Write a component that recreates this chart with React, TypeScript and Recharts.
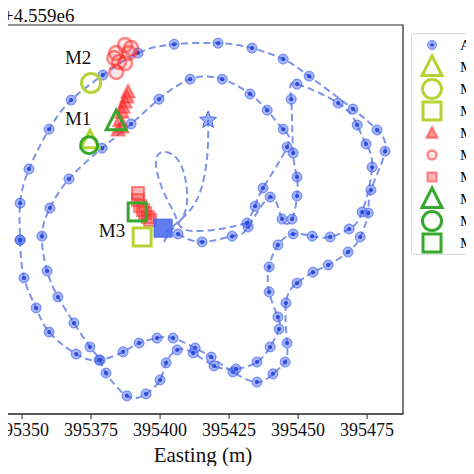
import React from 'react';
import { ComposedChart, Line, Scatter, XAxis, YAxis, ReferenceArea } from 'recharts';

// Easting (m) and northing (m above 4.559e6)
const lapOuter = [
  { x: 395349.3, y: 87.3 }, { x: 395350.7, y: 73.5 }, { x: 395355.1, y: 62.6 }, { x: 395359.8, y: 53.8 },
  { x: 395369.6, y: 45.8 }, { x: 395377.9, y: 43.6 }, { x: 395386.6, y: 46.6 }, { x: 395392.4, y: 49.8 },
  { x: 395398.9, y: 51.6 }, { x: 395404.7, y: 51.6 }, { x: 395412.7, y: 48.0 }, { x: 395418.5, y: 44.7 },
  { x: 395426.4, y: 39.3 }, { x: 395435.1, y: 35.6 }, { x: 395440.9, y: 38.6 }, { x: 395445.3, y: 42.9 },
  { x: 395446.0, y: 49.8 }, { x: 395445.6, y: 64.4 }, { x: 395449.6, y: 71.6 }, { x: 395455.4, y: 75.6 },
  { x: 395460.9, y: 78.2 }, { x: 395468.1, y: 82.9 }, { x: 395472.5, y: 88.4 }, { x: 395475.4, y: 97.1 },
  { x: 395476.4, y: 105.5 }, { x: 395481.5, y: 119.6 }, { x: 395478.6, y: 127.3 }, { x: 395469.9, y: 134.9 },
  { x: 395454.0, y: 146.9 }, { x: 395444.6, y: 153.1 }, { x: 395433.3, y: 157.1 }, { x: 395421.0, y: 158.9 },
  { x: 395405.1, y: 158.5 }, { x: 395392.0, y: 155.3 }, { x: 395379.3, y: 147.3 }, { x: 395367.8, y: 138.2 },
  { x: 395359.8, y: 127.6 }, { x: 395352.5, y: 113.1 }, { x: 395349.3, y: 100.7 }, { x: 395349.3, y: 87.3 },
];

const lapInner = [
  { x: 395406.5, y: 89.5 }, { x: 395415.2, y: 86.6 }, { x: 395426.1, y: 88.7 }, { x: 395431.9, y: 92.0 },
  { x: 395439.9, y: 102.9 }, { x: 395444.2, y: 94.9 }, { x: 395447.8, y: 94.9 }, { x: 395449.6, y: 103.3 },
  { x: 395449.6, y: 110.2 }, { x: 395448.2, y: 118.9 }, { x: 395447.5, y: 138.5 }, { x: 395449.6, y: 144.0 },
  { x: 395464.5, y: 137.1 }, { x: 395471.4, y: 129.1 }, { x: 395474.6, y: 122.2 }, { x: 395476.8, y: 113.8 },
  { x: 395473.2, y: 97.5 }, { x: 395468.5, y: 91.3 }, { x: 395461.6, y: 88.4 }, { x: 395455.1, y: 88.7 },
  { x: 395448.2, y: 89.5 }, { x: 395442.7, y: 85.5 }, { x: 395439.5, y: 77.5 }, { x: 395439.5, y: 68.4 },
  { x: 395442.7, y: 59.3 }, { x: 395443.1, y: 54.9 }, { x: 395439.9, y: 48.4 }, { x: 395435.1, y: 42.9 },
  { x: 395427.5, y: 40.4 }, { x: 395419.6, y: 41.5 }, { x: 395412.0, y: 46.2 }, { x: 395406.2, y: 47.3 },
  { x: 395402.2, y: 42.6 }, { x: 395400.0, y: 36.4 }, { x: 395394.9, y: 31.3 }, { x: 395388.0, y: 30.6 },
  { x: 395380.4, y: 38.9 }, { x: 395378.3, y: 43.6 }, { x: 395374.6, y: 48.4 }, { x: 395368.8, y: 57.1 },
  { x: 395363.0, y: 66.6 }, { x: 395359.1, y: 76.0 }, { x: 395357.2, y: 88.7 }, { x: 395360.1, y: 98.9 },
  { x: 395367.0, y: 109.5 }, { x: 395379.0, y: 120.7 }, { x: 395389.5, y: 129.5 }, { x: 395399.6, y: 138.5 },
  { x: 395410.9, y: 145.8 }, { x: 395422.5, y: 145.8 }, { x: 395432.6, y: 140.4 }, { x: 395438.8, y: 134.5 },
  { x: 395444.6, y: 127.6 }, { x: 395446.0, y: 121.1 }, { x: 395437.3, y: 106.2 }, { x: 395434.4, y: 99.6 },
  { x: 395431.5, y: 93.5 },
];

// unsampled parts of the path (no markers)
const pathStart = [
  { x: 395417.4, y: 130.9 }, { x: 395417.4, y: 123.6 }, { x: 395416.7, y: 114.5 }, { x: 395414.5, y: 104.7 },
  { x: 395410.9, y: 98.2 }, { x: 395406.5, y: 93.8 }, { x: 395402.2, y: 90.2 },
];
const pathLoop = [
  { x: 395431.5, y: 93.5 }, { x: 395423.5, y: 91.6 }, { x: 395414.5, y: 90.6 }, { x: 395408.0, y: 91.6 },
  { x: 395405.4, y: 96.4 }, { x: 395401.8, y: 103.6 }, { x: 395398.9, y: 112.0 }, { x: 395398.9, y: 117.8 },
  { x: 395402.2, y: 119.3 }, { x: 395406.5, y: 116.4 }, { x: 395409.1, y: 109.8 }, { x: 395409.8, y: 101.8 },
  { x: 395408.0, y: 95.3 }, { x: 395403.6, y: 90.2 }, { x: 395401.1, y: 85.8 },
];

const startPoint = [{ x: 395417.4, y: 130.9 }];
const endPoint = [{ x: 395401.1, y: 91.6 }];

const estM1 = [
  { x: 395388.4, y: 141.1 }, { x: 395388.0, y: 139.3 }, { x: 395387.3, y: 137.5 }, { x: 395386.6, y: 135.6 },
  { x: 395386.2, y: 133.8 }, { x: 395385.5, y: 130.9 }, { x: 395384.8, y: 127.3 }, { x: 395386.2, y: 128.4 },
];
const estM2 = [
  { x: 395387.3, y: 158.2 }, { x: 395389.5, y: 157.1 }, { x: 395388.7, y: 155.3 }, { x: 395384.1, y: 155.3 },
  { x: 395383.4, y: 153.5 }, { x: 395385.1, y: 152.0 }, { x: 395384.1, y: 148.4 }, { x: 395387.3, y: 151.6 },
];
const estM3 = [
  { x: 395392.0, y: 104.4 }, { x: 395392.0, y: 101.8 }, { x: 395392.8, y: 99.6 }, { x: 395393.8, y: 98.2 },
  { x: 395394.6, y: 97.1 }, { x: 395395.6, y: 95.6 }, { x: 395396.4, y: 94.5 },
];

const trueM1 = [{ x: 395374.6, y: 123.6 }];
const trueM2 = [{ x: 395375.0, y: 144.4 }];
const trueM3 = [{ x: 395393.5, y: 88.4 }];
const finalM1 = [{ x: 395384.1, y: 130.5 }];
const finalM2 = [{ x: 395374.3, y: 121.8 }];
const finalM3 = [{ x: 395391.7, y: 97.5 }];

const tags = [
  { x: 395370.3, y: 131.6, name: 'M1' },
  { x: 395370.3, y: 153.8, name: 'M2' },
  { x: 395382.6, y: 90.9, name: 'M3' },
];

const xTicks = [395350, 395375, 395400, 395425, 395450, 395475];
const yTicks = [40, 60, 80, 100, 120, 140, 160];
const X_DOMAIN = [395343.1, 395488];
const Y_DOMAIN = [24, 165.5];

const BLUE = '#4565ee';
const DASH = '#7f93e8';
const LIME = '#b5d334';
const RED = '#ff2b2b';
const GREEN = '#36a82c';
const FONT = '"Liberation Serif", "DejaVu Serif", serif';

type Style = 'lime' | 'red' | 'green';
type Kind = 'tri' | 'circ' | 'sq';

const styleOf = (s: Style) => {
  if (s === 'lime') return { stroke: LIME, fill: 'none', sw: 3, so: 1, fo: 0 };
  if (s === 'green') return { stroke: GREEN, fill: 'none', sw: 3, so: 1, fo: 0 };
  return { stroke: RED, fill: RED, sw: 2, so: 0.55, fo: 0.35 };
};

const Marker = ({ kind, style, cx, cy, size }: { kind: Kind; style: Style; cx: number; cy: number; size: number }) => {
  const st = styleOf(style);
  const h = size / 2;
  const common = {
    stroke: st.stroke,
    strokeWidth: st.sw,
    strokeOpacity: st.so,
    fill: st.fill,
    fillOpacity: st.fo,
  };
  if (kind === 'tri') {
    const pts = `${cx},${cy - h * 1.1} ${cx + h},${cy + h * 0.85} ${cx - h},${cy + h * 0.85}`;
    return <polygon points={pts} {...common} fillOpacity={style === 'red' ? 0.5 : 0} strokeLinejoin="miter" />;
  }
  if (kind === 'circ') return <circle cx={cx} cy={cy} r={h} {...common} fillOpacity={style === 'red' ? 0.12 : 0} strokeWidth={style === 'red' ? 2.5 : 3} />;
  return <rect x={cx - h} y={cy - h} width={size} height={size} {...common} />;
};

const TrajDot = ({ cx, cy, r = 5 }: { cx: number; cy: number; r?: number }) => (
  <g>
    <circle cx={cx} cy={cy} r={r} fill={BLUE} fillOpacity={0.5} stroke={BLUE} strokeOpacity={0.7} strokeWidth={1} />
    <circle cx={cx} cy={cy} r={r * 0.4} fill="#2b47d6" />
  </g>
);

const renderDot = (props: any) => {
  const { cx, cy, index } = props;
  if (cx == null || cy == null) return <g key={`e-${index}`} />;
  return (
    <g key={`d-${index}`}>
      <TrajDot cx={cx} cy={cy} />
    </g>
  );
};

const starPath = (cx: number, cy: number, R: number, r: number) => {
  let d = '';
  for (let i = 0; i < 10; i++) {
    const rad = i % 2 === 0 ? R : r;
    const a = -Math.PI / 2 + (i * Math.PI) / 5;
    d += `${i === 0 ? 'M' : 'L'}${cx + rad * Math.cos(a)},${cy + rad * Math.sin(a)}`;
  }
  return d + 'Z';
};

const XTick = (props: any) => {
  const { x, y, payload } = props;
  return (
    <text x={x} y={y} dy="0.71em" textAnchor="middle" fontFamily={FONT} fontSize={18} fill="#111">
      {payload.value}
    </text>
  );
};

// y labels sit left of the visible area in the source picture
const YTick = () => <g />;

const legendItems: { label: string; kind: Kind | 'dot'; style?: Style; size?: number }[] = [
  { label: 'A: trajectory', kind: 'dot' },
  { label: 'M1 ground truth', kind: 'tri', style: 'lime', size: 20 },
  { label: 'M2 ground truth', kind: 'circ', style: 'lime', size: 19 },
  { label: 'M3 ground truth', kind: 'sq', style: 'lime', size: 18 },
  { label: 'M1 estimates', kind: 'tri', style: 'red', size: 11 },
  { label: 'M2 estimates', kind: 'circ', style: 'red', size: 9 },
  { label: 'M3 estimates', kind: 'sq', style: 'red', size: 9 },
  { label: 'M1 final', kind: 'tri', style: 'green', size: 20 },
  { label: 'M2 final', kind: 'circ', style: 'green', size: 19 },
  { label: 'M3 final', kind: 'sq', style: 'green', size: 18 },
];

const ChartLegend = () => (
  <div
    style={{
      position: 'absolute',
      left: 411,
      top: 33,
      width: 130,
      height: 222,
      border: '1px solid #dcdcdc',
      borderRadius: 3,
      background: '#fff',
      boxSizing: 'border-box',
    }}
  >
    {legendItems.map((it) => (
      <div key={it.label} style={{ display: 'flex', alignItems: 'center', height: 22 }}>
        <svg width={24} height={22} style={{ marginLeft: 8, overflow: 'visible' }}>
          {it.kind === 'dot' ? (
            <TrajDot cx={12} cy={11} r={4.5} />
          ) : (
            <Marker kind={it.kind} style={it.style as Style} cx={12} cy={11} size={it.size || 10} />
          )}
        </svg>
        <span style={{ marginLeft: 16, fontFamily: FONT, fontSize: 15, lineHeight: '22px', whiteSpace: 'nowrap' }}>
          {it.label}
        </span>
      </div>
    ))}
  </div>
);

const scatterShape = (kind: Kind, style: Style, size: number) => (p: any) => (
  <Marker kind={kind} style={style} cx={p.cx} cy={p.cy} size={size} />
);

export default function App() {
  return (
    <div style={{ position: 'relative', width: 474, height: 474, margin: -8, overflow: 'hidden', background: '#fff' }}>
      <div style={{ position: 'absolute', left: -57, top: 0 }}>
        <ComposedChart width={531} height={474} margin={{ top: 25, right: 71, bottom: 0, left: 0 }}>
          <XAxis
            type="number"
            dataKey="x"
            domain={X_DOMAIN}
            ticks={xTicks}
            allowDataOverflow
            height={60}
            tickSize={5}
            tickMargin={4}
            stroke="#222"
            tick={XTick}
            label={{ value: 'Easting (m)', position: 'insideBottom', offset: 12, fill: '#111', fontSize: 21, fontFamily: FONT }}
          />
          <YAxis
            type="number"
            dataKey="y"
            domain={Y_DOMAIN}
            ticks={yTicks}
            allowDataOverflow
            width={60}
            tickSize={5}
            stroke="#222"
            tick={YTick}
          />
          <ReferenceArea x1={X_DOMAIN[0]} x2={X_DOMAIN[1]} y1={Y_DOMAIN[0]} y2={Y_DOMAIN[1]} fill="none" stroke="#222" strokeWidth={1.2} fillOpacity={0} />
          <Line data={pathStart} dataKey="y" type="natural" stroke={DASH} strokeWidth={2} strokeDasharray="7 4" dot={false} activeDot={false} isAnimationActive={false} />
          <Line data={pathLoop} dataKey="y" type="natural" stroke={DASH} strokeWidth={2} strokeDasharray="7 4" dot={false} activeDot={false} isAnimationActive={false} />
          <Line data={lapOuter} dataKey="y" type="natural" stroke={DASH} strokeWidth={2} strokeDasharray="7 4" dot={renderDot} activeDot={false} isAnimationActive={false} />
          <Line data={lapInner} dataKey="y" type="natural" stroke={DASH} strokeWidth={2} strokeDasharray="7 4" dot={renderDot} activeDot={false} isAnimationActive={false} />
          <Scatter data={estM2} shape={scatterShape('circ', 'red', 14)} isAnimationActive={false} />
          <Scatter data={estM1} shape={scatterShape('tri', 'red', 13)} isAnimationActive={false} />
          <Scatter data={estM3} shape={scatterShape('sq', 'red', 12)} isAnimationActive={false} />
          <Scatter data={trueM1} shape={scatterShape('tri', 'lime', 18)} isAnimationActive={false} />
          <Scatter data={trueM2} shape={scatterShape('circ', 'lime', 19)} isAnimationActive={false} />
          <Scatter data={trueM3} shape={scatterShape('sq', 'lime', 18)} isAnimationActive={false} />
          <Scatter data={finalM1} shape={scatterShape('tri', 'green', 20)} isAnimationActive={false} />
          <Scatter data={finalM2} shape={scatterShape('circ', 'green', 17)} isAnimationActive={false} />
          <Scatter data={finalM3} shape={scatterShape('sq', 'green', 18)} isAnimationActive={false} />
          <Scatter
            data={startPoint}
            isAnimationActive={false}
            shape={(p: any) => (
              <path d={starPath(p.cx, p.cy, 9, 4)} fill={BLUE} fillOpacity={0.55} stroke={BLUE} strokeWidth={1} />
            )}
          />
          <Scatter
            data={endPoint}
            isAnimationActive={false}
            shape={(p: any) => (
              <rect x={p.cx - 9} y={p.cy - 9} width={18} height={18} fill={BLUE} fillOpacity={0.85} stroke={BLUE} strokeWidth={1} />
            )}
          />
          <Scatter
            data={tags}
            isAnimationActive={false}
            shape={(p: any) => (
              <text x={p.cx} y={p.cy} textAnchor="middle" dominantBaseline="central" fontFamily={FONT} fontSize={19} fill="#111">
                {p.payload.name}
              </text>
            )}
          />
        </ComposedChart>
      </div>
      <div style={{ position: 'absolute', left: 3, top: 5, fontFamily: FONT, fontSize: 19, lineHeight: '22px', color: '#111' }}>
        +4.559e6
      </div>
      <ChartLegend />
    </div>
  );
}
